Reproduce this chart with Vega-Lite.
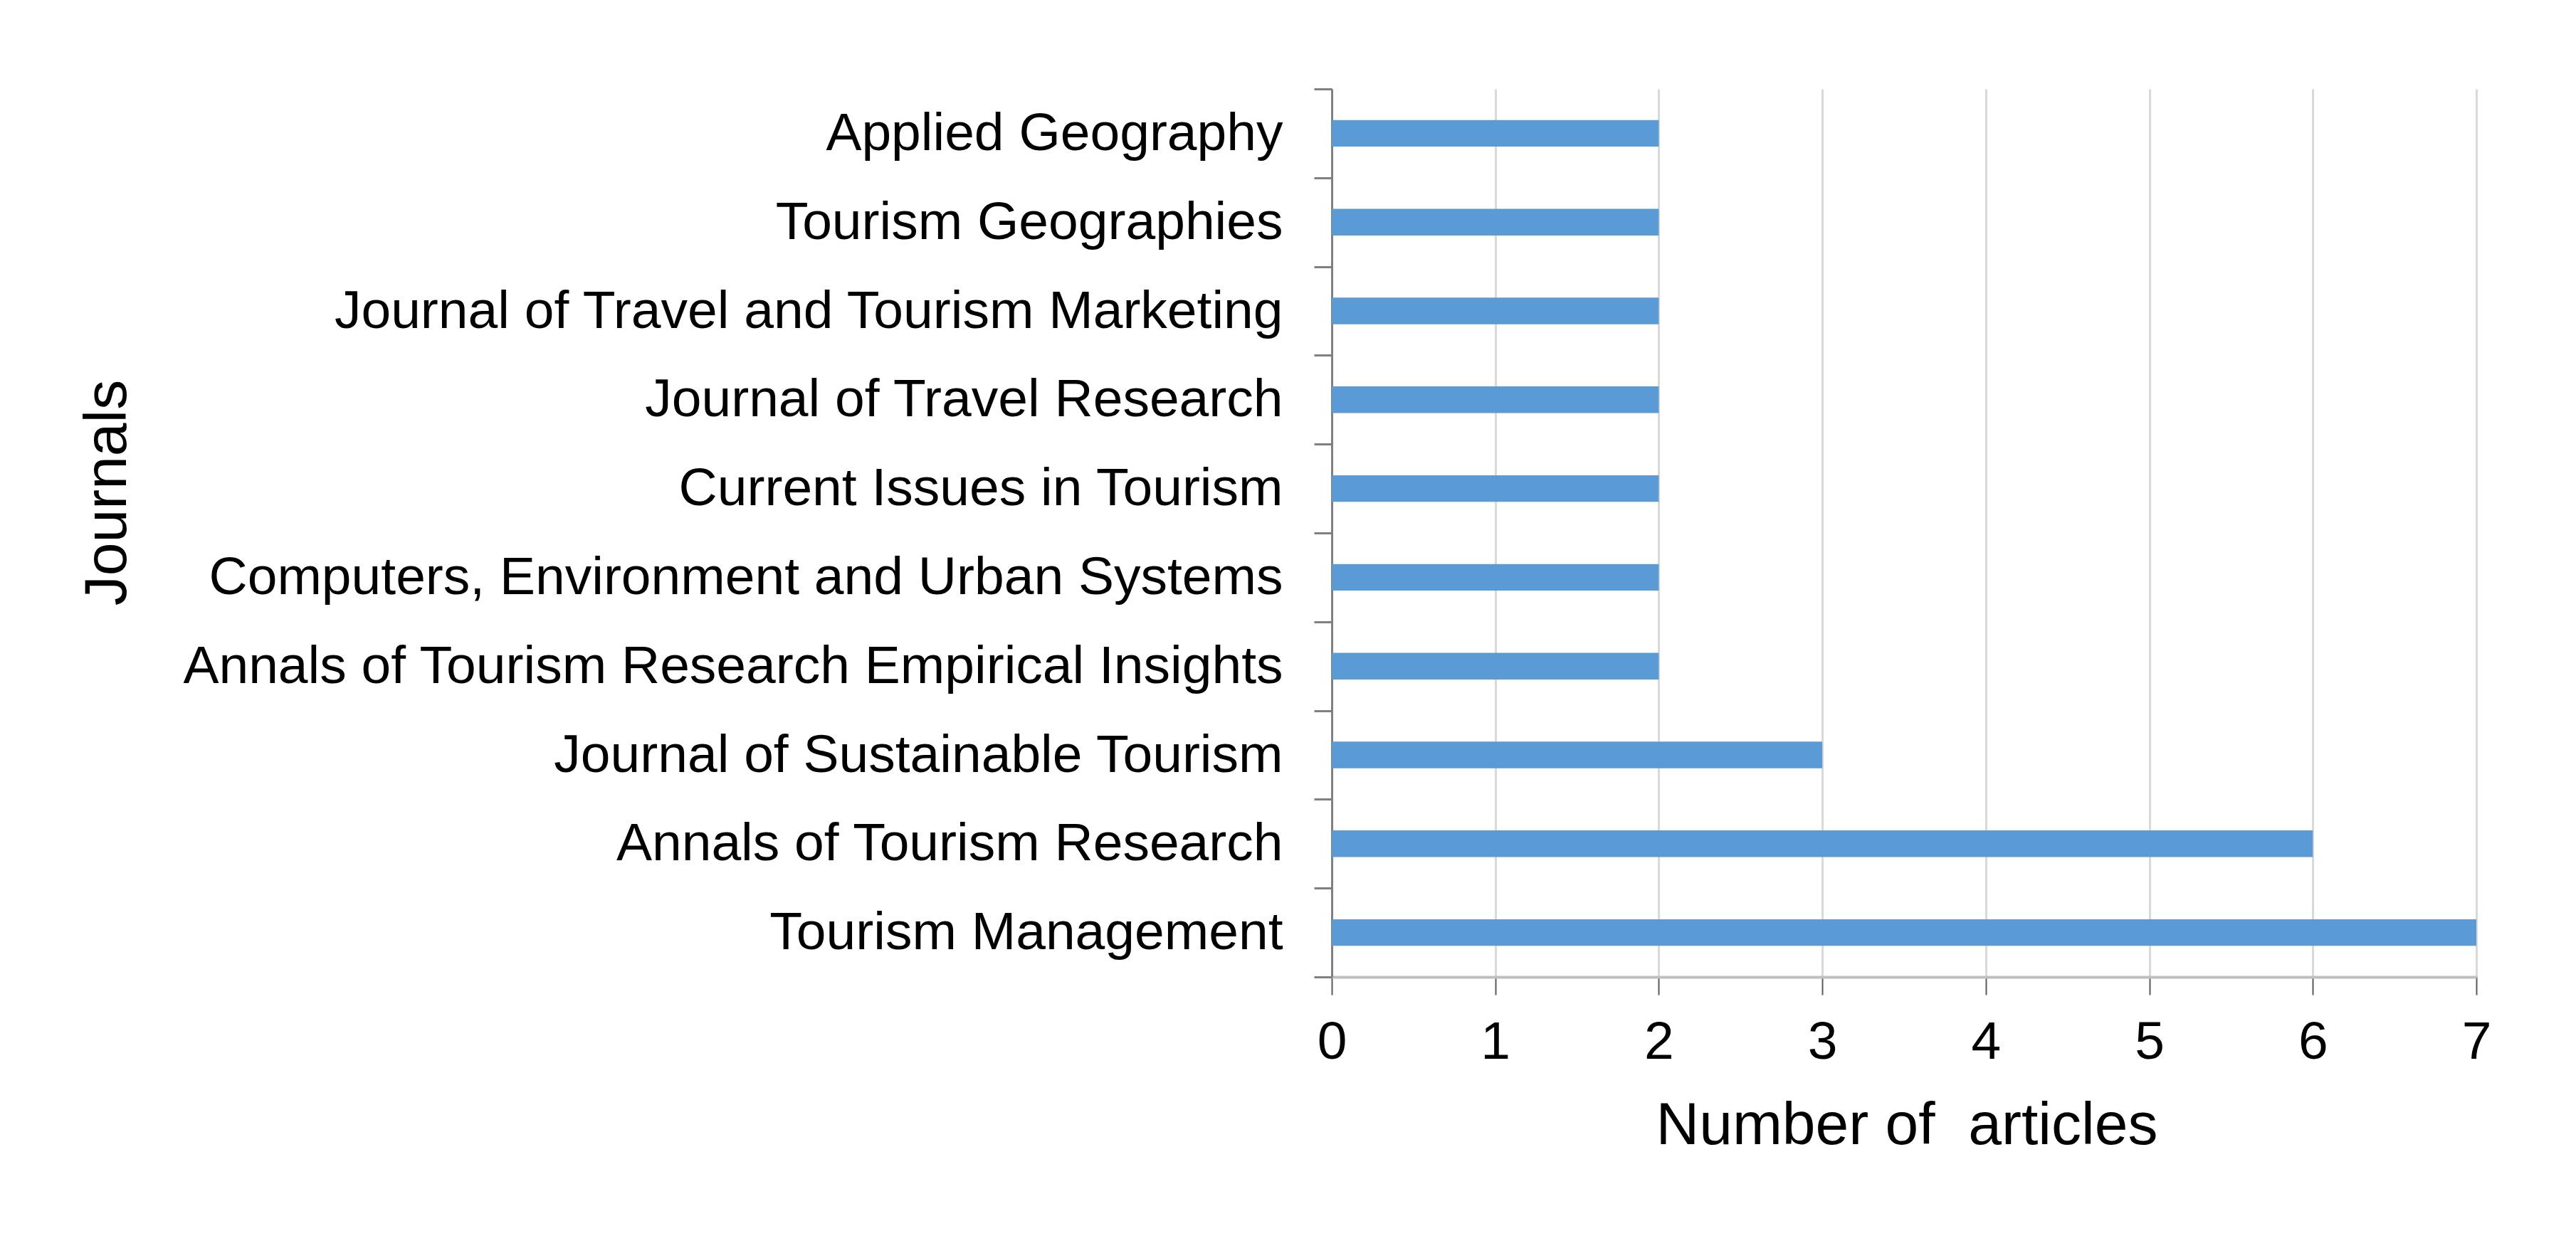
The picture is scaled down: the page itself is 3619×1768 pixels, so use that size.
{
  "$schema": "https://vega.github.io/schema/vega-lite/v6.json",
  "autosize": {"type": "none"},
  "width": 1608,
  "height": 1248,
  "padding": {"left": 1871, "top": 125, "right": 140, "bottom": 395},
  "background": "white",
  "data": {
    "values": [
      {"journal": "Applied Geography", "articles": 2},
      {"journal": "Tourism Geographies", "articles": 2},
      {"journal": "Journal of Travel and Tourism Marketing", "articles": 2},
      {"journal": "Journal of Travel Research", "articles": 2},
      {"journal": "Current Issues in Tourism", "articles": 2},
      {"journal": "Computers, Environment and Urban Systems", "articles": 2},
      {"journal": "Annals of Tourism Research Empirical Insights", "articles": 2},
      {"journal": "Journal of Sustainable Tourism", "articles": 3},
      {"journal": "Annals of Tourism Research", "articles": 6},
      {"journal": "Tourism Management", "articles": 7}
    ]
  },
  "mark": {"type": "bar", "color": "#5b9bd5", "height": {"band": 0.3}},
  "encoding": {
    "y": {
      "field": "journal",
      "type": "nominal",
      "sort": null,
      "scale": {"paddingInner": 0, "paddingOuter": 0},
      "axis": {
        "title": "Journals",
        "titleFont": "Liberation Sans",
        "titleFontSize": 84,
        "titleFontWeight": "normal",
        "titleColor": "black",
        "titleAngle": -90,
        "titleAlign": "center",
        "titleBaseline": "alphabetic",
        "titleX": -1695,
        "titleY": 567,
        "labelFont": "Liberation Sans",
        "labelFontSize": 75,
        "labelColor": "black",
        "labelPadding": 44,
        "labelLimit": 2000,
        "tickBand": "extent",
        "tickSize": 25,
        "tickWidth": 3,
        "tickColor": "#808080",
        "domainColor": "#808080",
        "domainWidth": 3,
        "grid": false
      }
    },
    "x": {
      "field": "articles",
      "type": "quantitative",
      "scale": {"domain": [0, 7], "nice": false},
      "axis": {
        "title": "Number of\u00a0 articles",
        "titleFont": "Liberation Sans",
        "titleFontSize": 84,
        "titleFontWeight": "normal",
        "titleColor": "black",
        "titleAlign": "left",
        "titleBaseline": "alphabetic",
        "titleX": 455,
        "titleY": 234,
        "values": [0, 1, 2, 3, 4, 5, 6, 7],
        "labelFont": "Liberation Sans",
        "labelFontSize": 75,
        "labelColor": "black",
        "labelPadding": 30,
        "labelFlush": false,
        "tickSize": 25,
        "tickWidth": 2,
        "tickColor": "#595959",
        "domainColor": "#bfbfbf",
        "domainWidth": 4,
        "grid": true,
        "gridColor": "#d9d9d9",
        "gridWidth": 3
      }
    }
  },
  "config": {"view": {"stroke": null}}
}
